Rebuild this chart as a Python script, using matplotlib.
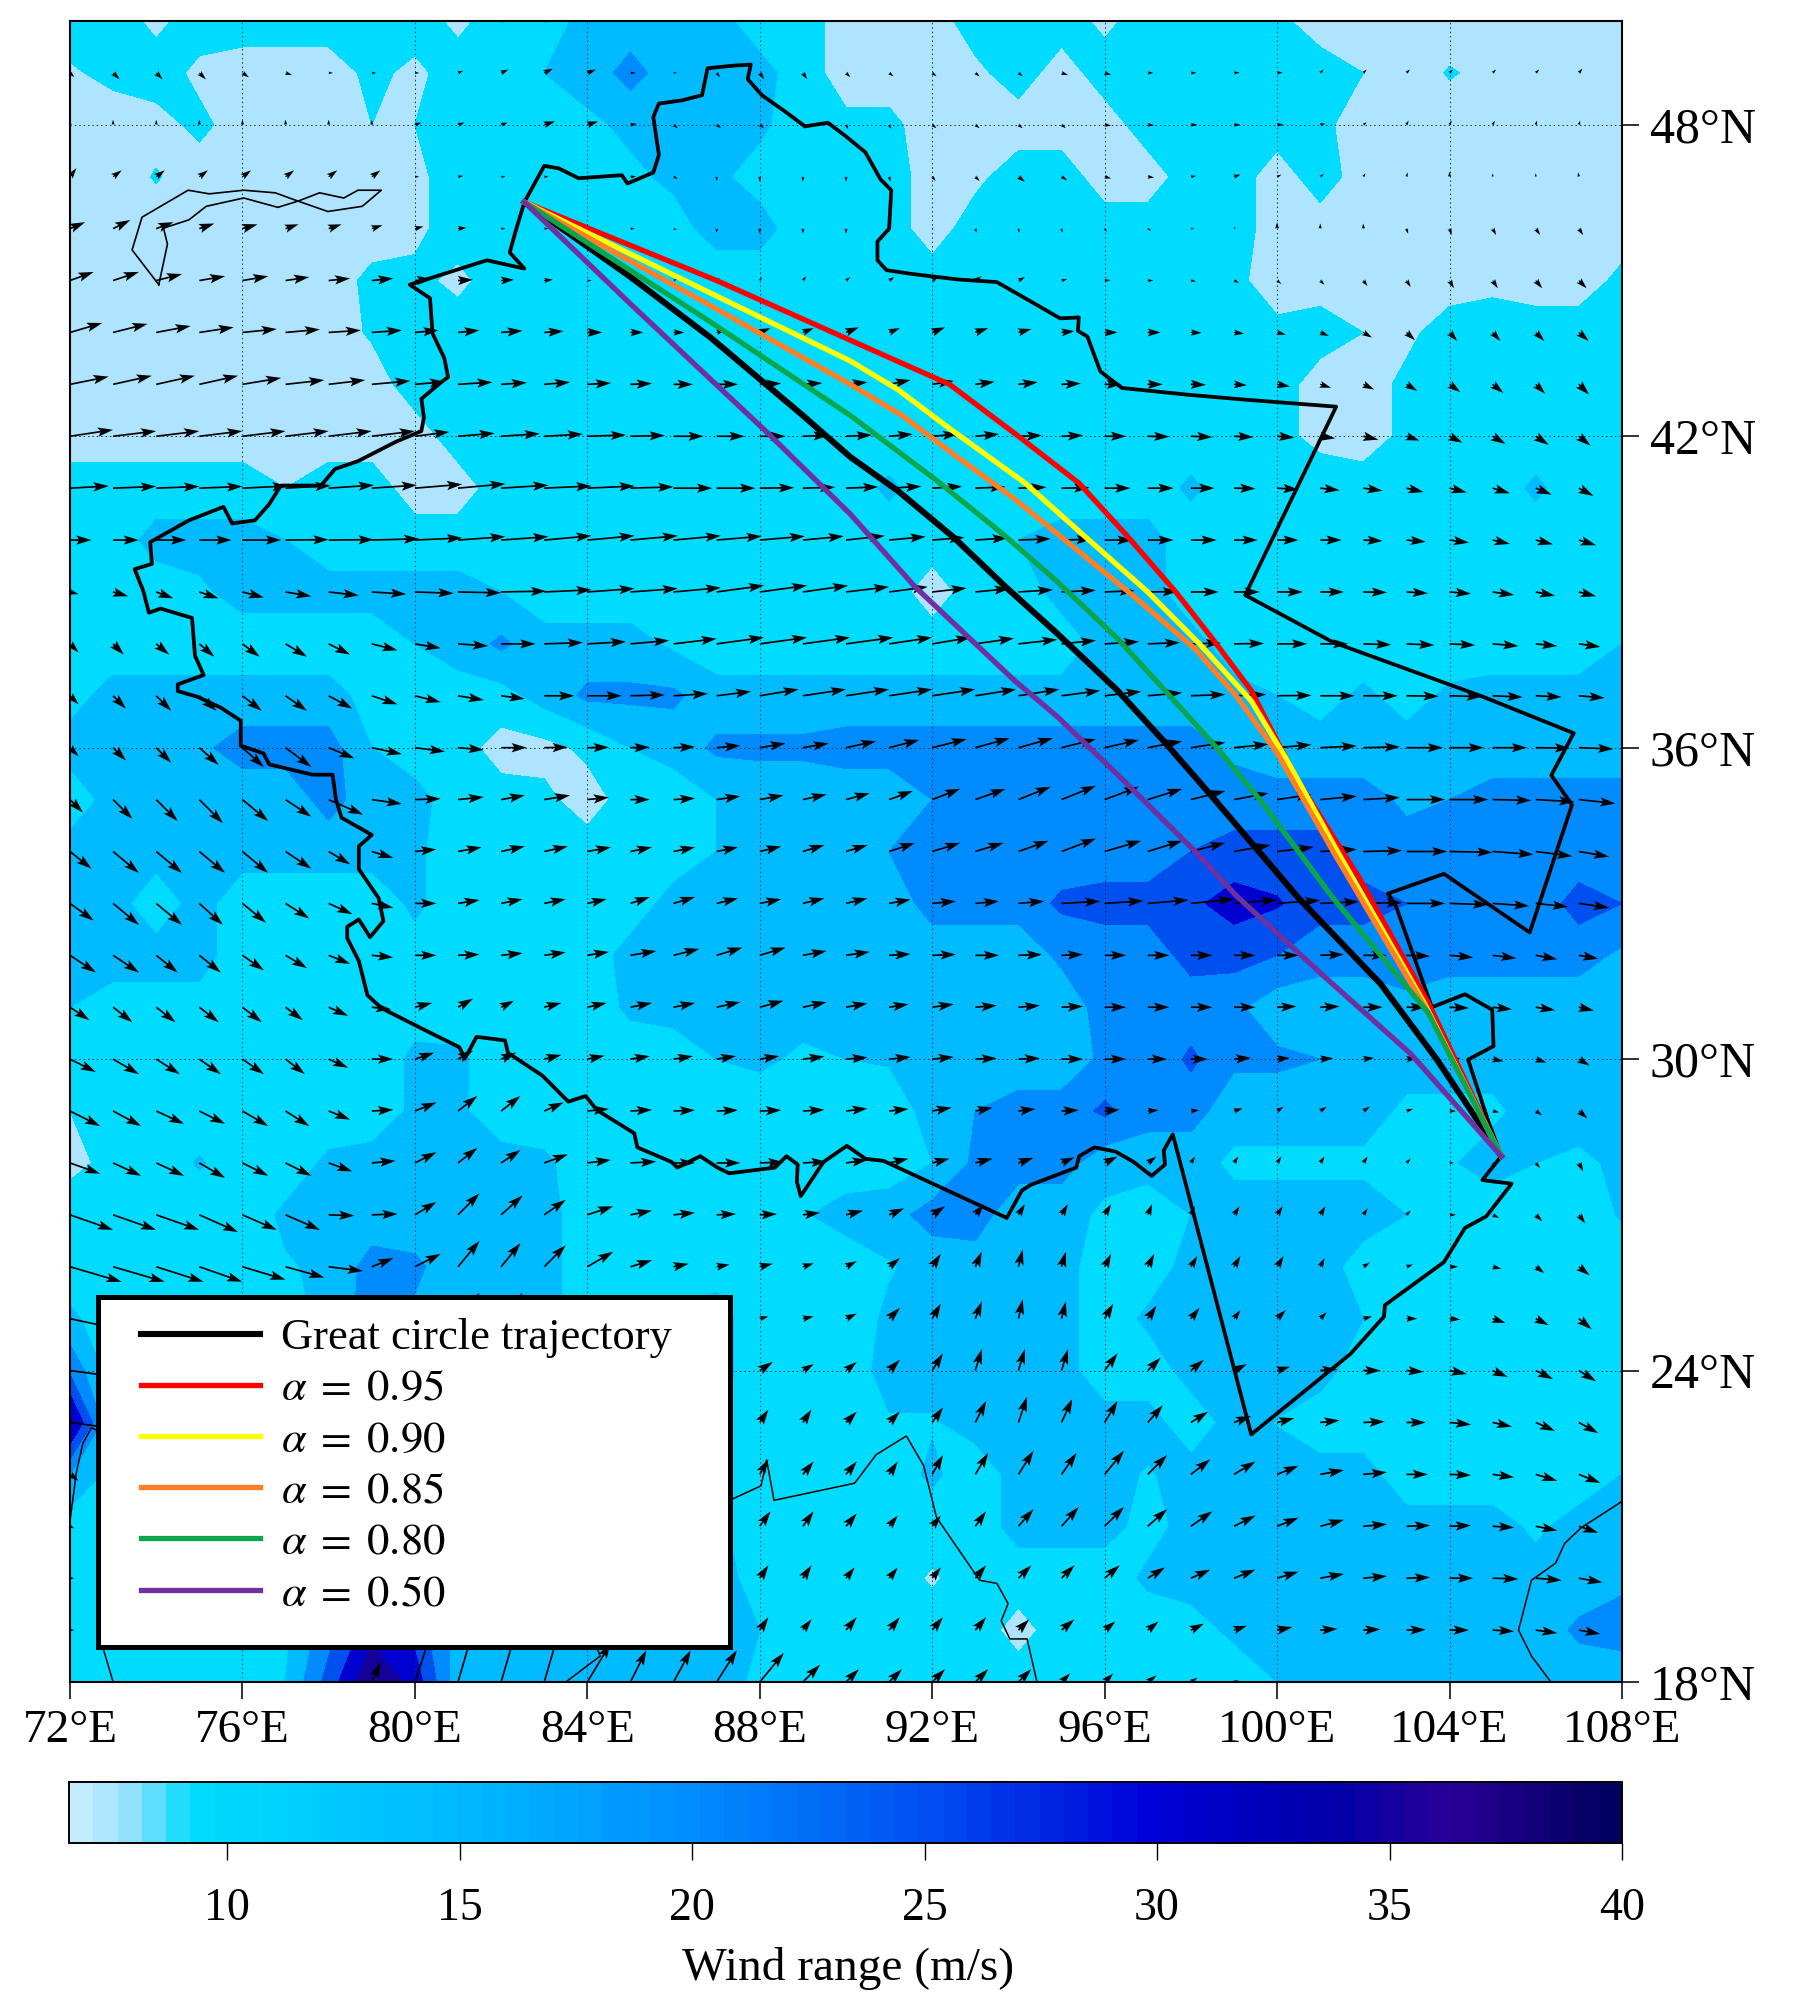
import numpy as np
import matplotlib
matplotlib.use("Agg")
import matplotlib.pyplot as plt
from matplotlib.cm import ScalarMappable
from matplotlib.colors import LinearSegmentedColormap, Normalize
from matplotlib.patches import Rectangle

plt.rcParams["font.family"] = ["Liberation Serif", "DejaVu Serif"]
plt.rcParams["mathtext.fontset"] = "stix"

# =========================
# data
# =========================
grid_lon = list(range(72, 109))
grid_lat = list(range(50, 17, -1))

# wind range (m/s), one row per latitude 50N..18N, lon 72E..108E
wind_range = [
    [12,12,9,12,12,12,12,12, 12,9,12,12,17,17,17,17,12,12, 8,9,8,12,12,12,9,12,12,12, 11,8,8,8,8,8,8,8,8],
    [9.5,11,12,9,8,8,8,11, 9,12,12,15,17,22,17,17,17,12, 8,8,8,9,12,8,12,12,12,12, 12,12,10,8,10.3,9,8,8,8],
    [8,8,8.5,11,8,8,8,10, 10,12,12,12,14,16,17,17,16,12, 11,11,8,8,8,8,8,12,12,12, 12,11,8,8,8,8,8,8,8],
    [8,8,10.3,8,8,8,8,8, 9,12,12,12,12,14,16,16,13,12, 14,12,8,9,12,12,8,8,12,12, 8,12,8,8,8,8,8,8,8],
    [8,8,8,8,8,8,8,8, 9,12,12,12,12,12,13,17,17,12, 12,12,8,12,12,12,12,12,12,12, 8,8,8,8,8,8,8,8,8],
    [8,8,8,8,8,8,8,11, 11,9,12,12,12,12,12,12,12,12, 12,12,12,12,12,12,12,12,12,11, 8,8,8,8,8,9,8,8,11],
    [8,8,8,8,8,8,8,10.5, 12,12,12,12,12,12,12,12,12,12, 12,12,12,12,12,12,12,12,12,12, 11,12,10,9,12,12,12,12,12],
    [8,8,8,8,8,8,8,8, 12,12,12,12,12,12,12,12,12,12, 12,12,12,12,12,12,12,12,12,12, 12,8,8,11,12,12,12,12,12],
    [8,8,8,8,8,8,8,8, 8,12,12,12,10,12,12,12,12,12, 12,12,12,12,12,12,12,12,12,12, 11,9,8,11,12,12,12,12,12],
    [12,12,12,12,12,10,12,12, 8,8,12,12,12,12,12,12,12,12, 12,16,12,12,12,12,12,12,16,12, 12,12,12,12,12,12,16,12,12],
    [12,12,17,17,17,15,12,12, 12,12,12,12,12,12,12,12,12,12, 12,12,12,12,15,17,17,17,12,12, 12,12,12,12,12,12,12,12,12],
    [12,12,12,14,17,17,17,17, 17,17,15,12,12,12,12,12,12,12, 12,12,8,12,12,17,17,17,12,12, 12,12,12,12,12,12,12,12,12],
    [12,12,12,12,12,12,12,12, 15,17,21,17,17,17,14,12,12,12, 12,12,12,12,12,12,17,17,17,12, 12,12,12,12,12,12,12,12,15],
    [13,17,17,17,17,17,17,13, 13,13,13,17,21,21,21,17,17,17, 17,17,17,17,17,17,17,17,17,17, 15,13,16,13,16,17,17,17,17],
    [17,17,17,19,22,22,22,15, 12,12,8,8.5,11,15,17,21,21,21, 22,22,22,22,22,22,22,22,22,19, 17,17,17,17,17,17,17,17,17],
    [12,17,17,17,17,17,22,17, 17,12,12,11,8,12,12,15,17,17, 17,17,20,22,22,22,22,22,22,22, 22,22,22,19,20,22,22,22,22],
    [17,17,17,17,17,17,17,17, 16,12,12,12,12,12,12,15,17,17, 17,20,22,22,22,22,22,22,25,27, 27,27,22,22,22,22,22,22,22],
    [17,17,12,17,12,12,12,12, 16,12,12,12,12,12,17,17,17,17, 17,17,22,22,22,26,27,27,29,32, 30.5,27,27,25,22,22,22,27,25],
    [17,17,17,17,12,12,12,12, 13,12,12,12,12,17,17,17,17,17, 17,17,17,17,17,21,22,22,27,27, 25,22,22,22,22,22,22,22,19],
    [15,13,13,13,12,12,12,14, 13,12,12,12,12,16,17,17,17,17, 17,17,17,17,17,17,22,22,22,21, 17,17,17,19,17,17,17,17,17],
    [12,12,12,12,12,12,12,12, 16,16,12,12,12,12,12,15,16,14, 15,15.5,17,17,17,17,21,21,26,21, 21,20,17,17,17,17,17,17,17],
    [10,12,12,12,12,12,12,12, 16,16,12,12,12,12,12,12,12,12, 12,12,17,20,22,22,26,22,22,17, 17,17,17,14,14,14,17,17,17],
    [9,11,12,15.5,12,12,16,17, 17,17,17,16,12,12,12,12,12,12, 12,12,15,21,22,22,17,17,17,14, 14,14,14,14,14.5,17,15,14,16],
    [12,12,12,12,12,16,17,17, 17,17,17,17,12,12,12,12,12,14.5, 17,18,22,22,17,17,14,12,15,17, 17,17,17,15,12,12,12,12,15.5],
    [12,12,12,12,12,14.5,16,22, 21,17,17,17,12,14.5,12,13,12,12, 12,14.5,17,18,17,17,12,12,17,17, 17,17,13,12,15,12,12,12,12],
    [16,12,12,12,12,12,17,22, 19,17,17,17,12,15,16,17,12,12, 12,16,17,17,17,17,12,16,17,17, 17,17,15,12,12,12,12,12,12],
    [24,12,12,12,13,14,16,18, 17,17,17,16,16,16,16,17,12,12, 12,17,17,17,17,17,12,12,17,17, 17,17,12,12,12,12,12,12,12],
    [37,14,12,12,13,14,15,16, 16,16,16,16,16,16,16,16,12,12, 12,14.5,14.5,17,17,17,17,17,12,17, 14.8,12,12,12,12,12,12,12,12],
    [20,13,12,12,12,13,14,15, 15,15,15,15,15,15,15,16,12,12, 12,12,16,12,17,17,17,14.5,17,17, 17,17,17,12,12,12,12,12,15],
    [12,12,12,12,12,12,13,14, 15,15,15,15,15,15,15,16,12,12, 12,12,12,12,17,17,17,13,17,17, 17,17,17,17,17,17,14,17,17],
    [12,12,12,12,12,12,13,14, 15,15,15,15,15,15,15,16,14,12, 12,12,9.5,12,12,12,12,16,17,17, 17,17,17,17,17,17,17,17,19],
    [12,12,12,12,12,14,23,33, 28,18,17,17,17,17,17,17,15,12, 12,12,12,12,8.5,12,12,12,13,16, 17,17,17,17,17,17,17,21,22],
    [12,12,12,12,12,15,27,40, 33,17,17,17,17,17,17,17,14,12, 12,12,12,12,12,12,12,12,12,12, 15,17,17,17,17,17,17,17,17],
]

# wind vectors, one row per latitude 50N..18N, lon 72E..107E
arrow_lon = list(range(72, 108))
wind_u = [
    [0,0,0,0,0,0,0,0, 1,1,1.5,1.5,0,0,0,0,0,0, 0,0,0,0,0,0,0,0,0,0, 0,0,.8,.8,.8,.8,.8,.8],
    [1,1.5,1.5,1.5,1.5,1.5,1,1, 1,1.2,1.7,2,2,1.2,.8,.8,1,1, 1,1,1,1,1,1.5,1.5,1.3,1.3,1.3, 1.3,.8,.8,.8,.8,.8,.8,.8],
    [0,0,0,0,0,0,0,0, 1.5,1.5,1.5,2.5,2.5,1.5,1,1,1,.5, .5,.5,1,1,1,1,1.5,1.5,1.5,1.5, 1.5,1.2,.8,.5,.5,.5,.3,.3],
    [1.5,2,2,2,2,2,2,2, 1,1.2,1,1,1,1.3,1,0,0,0, 0,.3,.8,1,1.5,1.3,1.5,1.5,1.2,1.5, 1,.8,.5,.3,0,0,0,-.2],
    [3.5,4,4,3.5,3.5,3,3,2.5, 2,2,1,1,1,1,.8,0,0,0, 0,0,.3,.3,.2,.2,.5,.8,.8,.5, 0,0,0,.4,.5,.8,1,1],
    [5.5,6,6,6,6,5.5,5,5, 4,3.5,3,2,1,1,.8,.8,.5,.8, 1,1.2,1.5,1.5,1.5,1.3,1.3,1.3,1.2,1.2, 1,1,1,1,1,1.2,1.5,1.8],
    [7.5,8,8,8,8,8,7.5,7, 5.5,5,5,4.5,3.5,3,2.5,2,2.5,2.5, 3,2.5,3,3,3,3,3,3,2.5,2.3, 2,2,2,2,1.8,1.8,2,2.3],
    [9,9,9,9,9,9,8.5,9, 7,8,6,6,5.5,5,4.5,5,5,4.5, 5,5,5,4.5,4.5,4.5,4,3.5,3.5,3, 3,2.5,2.5,2.5,2.5,2.5,2.2,2.4],
    [10,10,10,10,10,10,10,10, 8,8.5,9,9,9,8,7,6.5,6,6, 6,5.5,6,5.5,5.5,5,5,5,5,4.5, 4,3.5,3.5,3,3,3,3,2.7],
    [9,10,10,10,10.5,10.5,10.5,10.5, 11,11,11,11,11,10,9,9,8,7.5, 7.5,7.5,7,7,6.5,6.5,6,6,5.5,5, 5,4.5,4.5,4,4,4,3.7,3.4],
    [5,6,7,7.5,9,10,10.5,11, 11,11,11,11,11,11,11,10.5,10.5,9.5, 9,8.5,7.5,7.5,7.5,7,6.5,6,6,5.5, 5,5,4.5,4.5,4.5,4,4,4],
    [2,3.5,4,4.5,5,6,7,8, 9,10,10.5,11,11,11,11,11,11,10.5, 10,9,8,8,8,8,7,7,6.5,6, 6,5.5,5.5,5,5,5,4.5,4],
    [2,2.5,3,3.5,4,5,5,6, 6,7,8,9,9,9,10,11,11,11, 11,10,9,9,9,8,8,7.5,7,7, 7,6.5,6.5,6.5,6,6,5,5],
    [2,3,3.5,4,4.5,5,5.5,6, 6,6,5.5,7,8,8,8,8,9,10, 10,10,10,9.5,9.5,9,8.5,8,8,7.5, 8,8,8,7.5,7.5,7,6,6],
    [2,3,3.5,4.5,5,6,6,7, 7,6,6,5.5,5,4.5,5,5.5,6,6, 7,7,8,8,8,8,8,8,8,8, 8,8.5,8.5,8.5,8,8,8,8],
    [3,4.5,5,5.5,6,6,8,7, 6,6,5.5,6,5,4.5,5,5.5,5.5,5.5, 5.5,5.5,6.5,7,7.5,8,8,8,8,8, 8,8.5,8.5,9,9,9,9,8.5],
    [5,6,6,6,6,6,5,5, 5,5.5,5.5,5.5,5.5,5,5,5,5,5, 5,6,6.5,6.5,7,8,8.5,8,8,8.5, 8.5,8.5,9,9.5,10,9.5,8.5,7],
    [5.5,6,6,5.5,5.5,5.5,5.5,5, 5,5,5,5,4.5,4.5,5,5,5,5, 5,5,5.5,5.5,6,9,9,9.5,10,10, 10,9,9,9,9,8.5,7.5,7],
    [6,6,5,5,5,5,5,5, 5,5,5,5,5,6,6,6,6,5.5, 5.5,5,5.5,5.5,5.5,5,5,5,5,5, 5,5.5,5.5,5.5,5.5,5.5,5,4.5],
    [4.5,4.5,4.5,4.5,4.5,4,4.5,4.5, 4,3.5,3,4,4.5,5,5,5.5,5.5,5.5, 5,4.5,5,5,5,5,5,5,5,5, 4.5,4.5,4.5,4.5,4.5,4.5,4.5,3.5],
    [6,6,5.5,5,5,4.5,4.5,5, 4.5,3.5,3.5,4,4,4.5,4.5,4.5,4.5,5, 5,5,5,5,5,5,5,4.5,4,4, 3,3,2.5,2.5,2.5,2.5,2.5,2.5],
    [7,6.5,6.5,6,6,5.5,5,5, 5,4.5,4.5,4.5,5,5,5,5,5,5, 5,4.5,4.5,4,4,4,3.5,2.5,2,2, 1.5,1.5,1.5,1.5,1.5,1.5,1.5,2],
    [7,6.5,6.5,6,6,6,5.5,5.5, 5,4.5,4.5,5.5,5.5,6,5,5.5,5.5,5.5, 5,4.5,4,4,3.5,3,3,2,1,1, 1,1,1,1,1,.8,1,1],
    [10,10,10,9,8,8,6,6, 5,5,5,5,6,5,5,4.5,4,4, 4,3.5,3,2,1.5,1.5,1.5,1,1,1.3, 1.3,1.2,1,1,1.5,1.5,1.5,1.5],
    [12,12,11,10,10,9,8,5, 6,5,4.5,5,6,5,3.5,3,3,2.5, 2.5,2.5,2,1.5,1,1,1.5,1.5,1.5,1.5, 1.5,1,1.5,1.5,2,2,2,2.5],
    [14,13,12,11,10,8,6,5, 5,5,5,5,5,4,3,2.5,2,2.5, 2.5,2.5,2,1.5,1,1,2,2,2,1.5, 2,1.5,2,2.5,2.5,3,3,3],
    [15,12,10,8,6,5,5,4, 4,4,4,4,3,3,3,3,3,2.5, 2.5,2.5,2.5,1.5,1.5,1.5,3,3,3,3, 3,4,4,4,4,3.5,4,4],
    [15,10,8,6,5,4,4,4, 4,4,4,3,3,3,3,2,2,2, 2.5,2.5,2.5,2.5,2,2.5,3,3.5,4,4, 4,4.5,5,4.5,5,4.5,4.5,4.5],
    [2,3,3,3,3,3,3,3, 3,3,3,3,3,3,3,2,2,2.5, 2.5,2,2.5,3,3.5,3.5,4.5,4.5,4.5,5, 5,5.5,5.5,5,5,5,5,5],
    [1,1,1,1,1,1,2,2, 3,3,3,3,3,3,3,3,2.5,2.5, 2.5,2,2,2.5,3.5,4,4.5,4.5,5,5, 5,5.5,5.5,5.5,5,5,5,4.5],
    [1,1,1,1,1,1,2,2, 3,3,3,3,3,3,3,3,2,2, 2,2,2,2.5,3,3,3.5,4,4.5,5, 5,5.5,5.5,5.5,5.5,6,6,5.5],
    [1,1,1,1,1,2,2,2, 3,3,3,3,3,3,3,3,2,2, 2.5,2.5,2.5,2.5,2.5,3,2.5,2.5,3,3, 3.5,4,4,4.5,4.5,5,5,5],
    [1,1,1,1,1,1,1,2, 4,3.5,3.5,3.5,5.4,3.7,4,4.7,5.6,4, 3,3,3,3,3,2,2,2,1.5,1, 1,.5,.5,.5,.5,.5,.5,.5],
]
wind_v = [
    [0,0,0,0,0,0,0,0, 1,1,1,1,0,0,0,0,0,0, 0,0,0,0,0,0,0,0,0,0, 0,0,1,1,1,1,1,1],
    [-1,-1.5,-1.5,-1.5,-1,-.5,0,0, 0,.5,.8,1,.8,0,0,-1,-1.5,-1.5, -1,-.8,-.8,-.8,-.8,-.5,-.5,0,0,.1, .1,.8,.8,.8,.8,.8,.8,1],
    [1.2,1.2,1.2,1.2,1.2,1.2,1.2,1.2, .5,.5,.5,.8,.8,.2,-.8,-.8,-.8,-1, -1,-1,-.8,-.8,-.8,-.8,-.2,-.1,0,0, 0,.3,.6,1,1,1,1,1],
    [2,1.5,1.5,1.5,1.5,1.5,1.5,1.5, 0,.2,0,0,0,0,-.5,-1,-1.2,-1.2, -1.2,-1.2,-1,-1,-1.2,-.8,-.4,-.2,.2,.5, .5,.6,.8,1,1.2,.8,.8,1],
    [1.5,2,1.5,1.2,1,1,1,.8, .5,.2,0,0,0,0,-.3,-1,-1.2,-1.2, -1.2,-.8,.3,-1,-1,-1,-.8,-.5,0,.4, 1.5,1.2,1.2,-1.2,-1.5,-1.5,-1.5,-1.5],
    [2,2,1.5,1,1,.8,.5,.5, .3,.2,.2,.2,0,0,.3,.5,.8,1, .8,.8,1,1,.8,.3,.1,0,-.2,-.5, -.8,-1,-1.3,-1.5,-1.8,-1.8,-1.8,-1.8],
    [2.2,2,1.5,1.2,.8,.7,.5,.5, .5,.5,.4,.3,0,0,0,.5,1,1, 1.2,1,1.2,1,.8,.3,0,0,-.1,-.3, -.5,-.8,-1.2,-1.8,-2,-2,-2,-2],
    [1.8,2,2,2,1.5,1,1,.8, .6,.5,.4,.5,.3,.2,0,0,.2,.3, .5,1,.8,.6,.5,.2,0,0,-.1,-.2, -.5,-.8,-1.2,-1.5,-1.8,-2,-2.2,-2.4],
    [1.5,1.2,1.2,1.2,1.2,1.2,1.2,1.2, 1,.7,.6,.5,.3,.2,0,0,0,.2, .3,.5,.5,.5,.2,.2,0,-.1,-.2,-.2, -.3,-.5,-.8,-1,-1.5,-1.8,-2,-2.2],
    [.5,.4,.4,.4,.5,.6,.7,.7, .9,1,.7,.5,.5,.3,0,0,.1,.2, .3,.4,.4,.3,.2,.1,0,0,0,-.1, -.3,-.5,-.6,-.9,-1,-1.2,-1.5,-1.8],
    [0,0,0,0,0,.1,.1,.3, .5,.8,.8,1,1,1,1,.9,.9,.9, 1,.8,.6,.5,.3,.2,0,0,0,0, 0,0,-.2,-.4,-.6,-.9,-1,-1.2],
    [-.5,-1,-1.5,-1.5,-1.3,-1,-.8,-.5, -.3,-.2,.2,.5,.8,.8,1,1.5,1.5,1.5, 1.2,1.2,.9,.8,.5,.4,.3,.1,0,0, 0,0,-.1,-.3,-.4,-.7,-.9,-1],
    [-2,-2.5,-2.5,-3,-3,-3,-2.5,-1.5, -1,-.5,0,.3,.5,.8,1.2,1.5,1.5,1.5, 1.5,1.5,1.5,1.3,1,.8,.5,.3,.2,.1, 0,0,-.2,-.3,-.3,-.5,-.5,-.7],
    [-2,-3,-3.5,-3.5,-3.5,-3.5,-3,-2, -1.5,-1,-.7,0,0,.2,.5,1,1.5,1.5, 1.5,1.5,1.5,1.5,1.5,1.2,1,.7,.3,.3, .1,0,0,-.1,-.2,-.3,-.3,-.5],
    [-2,-3,-3.5,-4,-4.5,-4.5,-2.5,-1.5, -.9,-.5,0,.1,.1,.1,.2,.5,1,1, 1.5,1.8,2,2.2,2.2,2,1.8,1.5,1.2,.8, .7,.4,.2,0,0,0,-.1,-.3],
    [-3,-4.5,-5,-5.5,-5,-4,-3.5,-1, .2,.6,1,1,.5,0,.3,.8,1,1.2, 1.5,2,2.5,2.5,3,3.2,3,2.5,2,1.5, 1.2,.8,.5,0,0,-.2,-.5,-.9],
    [-4,-5,-5,-5,-5,-4,-3,-1.5, .5,1,1.2,1.2,1,1,1,1,1.2,1.5, 1.5,2,2,2,2.5,3,2.5,2.5,2,1.5, 1,.5,.2,0,-.2,-.7,-1.1,-1.2],
    [-4,-5,-5,-5,-4.5,-3.5,-2.5,-1, 0,.8,1,1,1,1.5,1.5,1.2,1,1.2, 1.2,.9,.5,.5,.5,.5,.6,.8,1,.8, .7,.4,.2,0,-.3,-.6,-.8,-1],
    [-4,-4,-4,-4,-3.5,-3,-2,-.5, 0,.2,.5,.7,.8,1,1.5,1.8,1.8,1, .8,.3,.2,0,.2,.2,0,0,0,0, 0,.2,0,-.2,-.5,-.7,-.9,-.8],
    [-3,-3.5,-3.5,-3.5,-3.5,-3,-2,-.5, 1,2,1.5,1,1,1,1,1.2,1.5,1.2, .9,.7,.7,.4,.4,.2,0,0,0,0, .2,.2,0,0,-.2,-.5,-.7,-.8],
    [-3,-3.5,-3.5,-3.5,-3.5,-3.5,-2,0, 1.5,2,1.5,1,.8,.7,.7,.7,.7,.6, .4,.5,.5,.2,.2,0,0,0,0,.3, .3,.2,.3,.2,.2,-.5,-.8,-1.5],
    [-3.5,-3.5,-3,-3,-3.5,-3.5,-2,.3, 2,3.5,3.5,2,.5,.3,.2,.2,.2,.3, .6,.5,.8,.8,.5,.2,.3,.2,.2,.6, 1,1,1,.5,0,-.3,-1,-1.7],
    [-2.5,-3,-3,-3.5,-3,-3,-2,.5, 2.5,3.5,3,2,.7,.3,0,0,.2,.3, .7,1,1,1,1.2,1.3,1.5,1.5,1.5,1.5, 1.5,1.5,1.5,1,0,-.8,-1.2,-2],
    [-3.5,-3.5,-3.5,-4,-3.5,-3.5,-.2,.2, 3,5,4.5,3.5,2,1,.5,.2,.2,.5, 1,1.5,2,2.5,2.5,2.5,2.5,2.5,2,2, 2,2,1.5,1,0,-.7,-1.5,-2],
    [-3.5,-3.5,-3.5,-3.5,-3,-2.5,-1,2, 3,6,5.5,5,3.5,1.5,.7,.5,.7,.8, 1.3,2,3,3.5,4,3.5,3,3,2.5,2.5, 2.5,2,1,.5,0,-.5,-1.5,-2],
    [-3,-3,-3,-3,-3,-2,0,3, 4,6,6,5.5,4,2,1,.5,.5,.5, 1.2,2.5,3.5,4,4.5,4,3.5,3,2.5,2, 2,1.5,.5,0,-.2,-1,-1.5,-2.5],
    [-2,-2,-2,-2,-1,0,2,3, 4,5,5,4,3,3,3,3,2,1.5, 2,2.5,4,5,5,5,4,3,2.5,1.5, .9,.3,0,-.3,-.8,-1.5,-2,-2.5],
    [-2,-2,-1,0,1,2,3,3, 4,4,4,3,3,3,3,3,3,3, 2.5,2.5,3.5,5,6,5.5,5,4,2.5,1.5, 1,.5,.2,0,-.5,-1,-2,-2.5],
    [-1.5,0,1,2,3,3,3,3, 3,3,3,3,3,3,3,3.5,3.5,3, 3,3,4.5,5,5.5,5,5.5,4.5,3.5,3, 2,1,.5,0,-.2,-.7,-1.5,-2],
    [-.5,0,0,1,1,1,2,2, 3,3,3,3,3,3,3,3,3.5,3.5, 3,2.5,2.5,3.5,4,4.5,4.5,4,3.5,2.5, 2,1.5,.5,.2,.2,-.3,-1,-1.5],
    [0,0,0,0,1,1,2,3, 3,3,3,3,3,3,3,3,3,3, 2.5,2.5,2.5,3,3,3,3,2.5,2,2, 1.5,1,.5,.2,0,-.2,-.5,-1],
    [0,0,0,0,0,1,2,4, 6,6,6,6,6,6,6,6,3,2.5, 3,3,3,3,2.5,2.5,2,2,1.5,1, .7,.3,.2,.1,0,-.3,-.7,-.9],
    [0,0,0,0,0,0,0,4.5, 12,12,12,12,9,7.4,7.4,7.4,6.8,4, 3,3,3,3,3,2,2,1.5,1,.5, .2,0,0,0,0,0,0,0],
]

# contour bands
band_levels = [0, 10, 15, 20, 25, 30, 35, 40, 60]
band_colors = ["#aee4ff", "#00dcff", "#00bbff", "#008cff", "#0050f0", "#0000d0", "#14009a", "#000060"]

# colourbar ramp
ramp_values = [6.6, 7.5, 8.5, 9, 15, 20, 25, 30, 34, 36.5, 40]
ramp_colors = ["#c4ecff", "#9fe3ff", "#40dcff", "#00dcff", "#00b8ff", "#008cff", "#0050f0",
               "#0000d8", "#0000a8", "#2a0098", "#000060"]

# main boundary
border_lon = [82.54,83.0,83.34,83.8,84.8,84.93,85.53,85.66,85.53,85.66,86.19,86.66,86.79,87.39,87.79,87.72,88.05,88.58,89.05,89.58,
              89.98,90.45,90.8,91.05,91.0,90.73,90.73,90.94,91.5,92.6,93.5,94.28,94.97,95.4,95.38,95.6,95.9,96.4,97.93,99.33,
              101.37,99.26,101.3,104.78,106.88,106.36,106.84,105.86,103.87,102.57,102.76,103.59,104.36,104.99,105.02,104.43,104.9,105.2,104.76,105.44,
              104.85,104.36,103.87,102.5,102.48,101.7,99.4,97.58,97.37,97.4,97.09,96.67,96.25,95.76,95.41,95.34,94.29,94.08,93.73,90.87,
              90.45,90.02,89.48,88.95,88.86,88.88,88.62,88.35,87.29,87.02,86.62,86.09,85.95,85.16,85.09,84.22,83.96,83.56,82.96,82.16,
              82.09,81.43,81.16,81.03,80.23,79.23,78.9,78.7,78.43,78.43,78.7,78.96,79.27,79.16,78.7,78.7,79.0,78.3,78.17,78.09,
              77.62,76.62,76.49,75.96,75.96,75.5,74.96,74.5,74.5,75.1,74.9,74.83,74.1,73.83,73.7,73.5,73.9,73.86,74.76,75.56,
              75.76,76.29,76.62,76.89,77.82,78.15,78.68,79.55,80.15,80.21,80.15,80.61,80.77,80.68,80.41,80.35,79.88,81.67,82.54,82.2,82.34,82.54]
border_lat = [46.51,47.21,47.16,46.97,47.03,46.87,47.08,47.42,48.15,48.41,48.47,48.57,49.09,49.14,49.16,48.88,48.57,48.26,47.97,48.04,
              47.79,47.47,46.95,46.74,46.0,45.75,45.39,45.2,45.13,45.02,44.97,44.6,44.27,44.29,44.03,43.92,43.25,42.93,42.8,42.7,
              42.57,38.94,38.03,36.98,36.28,35.47,34.9,32.44,33.57,33.19,32.94,31.0,31.25,30.95,30.25,29.99,28.8,28.13,27.67,27.6,
              26.97,26.75,26.09,25.26,25.04,24.32,22.77,28.55,28.24,27.97,27.75,28.02,28.22,28.3,28.13,27.91,27.58,27.47,26.94,28.04,
              28.08,28.33,28.02,27.36,27.64,27.97,28.13,27.91,27.8,27.91,28.13,27.91,28.02,28.3,28.57,29.02,29.29,29.18,29.68,30.12,
              30.36,30.43,30.01,30.23,30.56,30.98,31.23,31.89,32.33,32.55,32.69,32.35,32.66,33.1,33.66,34.1,34.32,34.65,35.0,35.48,
              35.48,35.68,35.89,36.04,36.52,36.77,36.98,37.09,37.22,37.4,37.77,38.5,38.68,38.6,39.02,39.44,39.54,39.96,40.38,40.64,
              40.32,40.38,40.69,41.05,41.05,41.37,41.52,41.89,42.1,42.36,42.72,43.04,43.14,43.51,43.98,44.66,44.92,45.39,45.23,45.54,45.96,46.51]

# thin outlines
lake_lon = [74.06,73.44,73.67,74.74,75.23,76.03,76.76,77.29,77.79,78.35,78.68,79.22,78.78,77.98,77.29,76.82,76.03,75.16,74.76,74.17,74.26,74.06]
lake_lat = [44.92,45.59,46.22,46.74,46.67,46.74,46.69,46.53,46.69,46.59,46.74,46.74,46.43,46.33,46.53,46.41,46.59,46.43,46.17,46.01,45.7,44.92]
south_lon = [87.3,88.03,88.16,88.33,90.2,90.7,91.4,91.8,92.1,93.1,93.5,93.76,93.6,93.8,94.2,94.43]
south_lat = [21.5,21.78,22.28,21.5,21.83,22.38,22.74,22.17,21.17,19.96,19.9,19.51,19.18,18.83,18.83,18.0]
east_lon = [108,107.05,106.67,106.46,105.9,105.6,105.9,106.35]
east_lat = [21.48,20.97,20.67,20.29,19.96,19.0,18.5,18.0]
west_lon = [72.0,72.15,72.3,72.5,72.62,72.7]
west_lat = [21.1,22.05,22.6,22.9,22.85,21.1]
corner_lon = [72.75,73.0]
corner_lat = [18.7,18.0]
gap_lon = [83.5,84.3,84.2]
gap_lat = [18.0,18.5,18.7]

# trajectories
black_lon = [82.54,85.0,86.86,89.0,90.1,91.2,92.5,93.7,94.9,96.3,97.4,98.5,100.5,102.4,103.7,105.2]
black_lat = [46.51,45.07,43.9,42.4,41.6,40.95,40.05,39.1,38.2,37.1,36.1,35.05,33.1,31.45,30.0,28.13]
red_lon = [82.54,87.0,90.1,92.4,94.0,95.4,96.5,97.65,98.5,99.4,100.45,101.9,103.5,105.2]
red_lat = [46.51,45.0,43.85,43.0,42.0,41.1,40.1,39.0,38.1,37.1,35.4,33.5,31.1,28.13]
yellow_lon = [82.54,87.0,90.1,91.2,92.4,94.15,95.5,97.0,98.2,99.4,100.2,101.4,103.4,105.2]
yellow_lat = [46.51,44.7,43.45,42.9,42.15,41.1,40.1,39.0,38.0,36.9,35.8,34.0,31.1,28.13]
orange_lon = [82.54,87.0,90.1,91.3,92.5,93.9,95.3,96.7,98.1,99.05,100.0,101.3,103.5,105.2]
orange_lat = [46.51,44.45,43.0,42.4,41.65,40.8,39.85,38.9,37.9,37.0,35.9,34.0,30.9,28.13]
green_lon = [82.54,86.86,90.1,92.1,93.66,94.9,96.3,97.4,98.6,99.6,101.3,103.5,105.2]
green_lat = [46.51,44.2,42.4,41.15,40.1,39.2,38.1,37.1,36.0,35.0,33.1,30.9,28.13]
purple_lon = [82.54,85.0,88.2,90.1,91.6,92.75,93.9,94.9,96.4,98.1,99.05,101.15,103.1,105.2]
purple_lat = [46.51,44.55,42.05,40.5,39.1,38.2,37.3,36.6,35.4,34.0,33.15,31.55,30.1,28.13]

lon_ticks = [72, 76, 80, 84, 88, 92, 96, 100, 104, 108]
lat_ticks = [18, 24, 30, 36, 42, 48]
bar_ticks = [10, 15, 20, 25, 30, 35, 40]

# =========================
# figure
# =========================
W, H = 1795, 2016
fig = plt.figure(figsize=(W / 100, H / 100), dpi=100)
ax = fig.add_axes([70 / W, 1 - 1682 / H, 1552 / W, 1661 / H])

ax.contourf(grid_lon, grid_lat, np.array(wind_range), levels=band_levels, colors=band_colors)

# map grid
for x in lon_ticks[1:-1]:
    ax.axvline(x, color="#103050", lw=0.7, ls=(0, (1.5, 3)), zorder=1.5)
for y in lat_ticks[1:]:
    ax.axhline(y, color="#103050", lw=0.7, ls=(0, (1.5, 3)), zorder=1.5)

ax.quiver(arrow_lon, grid_lat, np.array(wind_u), np.array(wind_v), angles="uv",
          scale_units="dots", scale=1 / 4.3, units="dots", width=1.7, headwidth=5.5,
          headlength=9, headaxislength=7.5, minshaft=1, minlength=0, pivot="tail",
          color="black", zorder=3)

ax.plot(lake_lon, lake_lat, color="black", lw=1.2, zorder=4)
ax.plot(south_lon, south_lat, color="black", lw=1.1, zorder=4)
ax.plot(east_lon, east_lat, color="black", lw=1.1, zorder=4)
ax.plot(west_lon, west_lat, color="black", lw=1.1, zorder=4)
ax.plot(corner_lon, corner_lat, color="black", lw=1.1, zorder=4)
ax.plot(gap_lon, gap_lat, color="black", lw=1.1, zorder=4)
ax.plot(border_lon, border_lat, color="black", lw=2.7, zorder=4, solid_joinstyle="round")

ax.plot(black_lon, black_lat, color="black", lw=4.4, zorder=5, label="Great circle trajectory")
ax.plot(red_lon, red_lat, color="#ff0000", lw=3.8, zorder=5, label=r"$\alpha\;=\;0.95$")
ax.plot(yellow_lon, yellow_lat, color="#ffff00", lw=3.8, zorder=5, label=r"$\alpha\;=\;0.90$")
ax.plot(orange_lon, orange_lat, color="#ff7f27", lw=3.8, zorder=5, label=r"$\alpha\;=\;0.85$")
ax.plot(green_lon, green_lat, color="#0aa64b", lw=3.8, zorder=5, label=r"$\alpha\;=\;0.80$")
ax.plot(purple_lon, purple_lat, color="#7030a0", lw=3.8, zorder=5, label=r"$\alpha\;=\;0.50$")

ax.set_xlim(72, 108)
ax.set_ylim(18, 50)
ax.set_xticks(lon_ticks)
ax.set_xticklabels([f"{v}°E" for v in lon_ticks], fontsize=34)
ax.yaxis.tick_right()
ax.set_yticks(lat_ticks)
ax.set_yticklabels([f"{v}°N" for v in lat_ticks], fontsize=36)
ax.tick_params(axis="both", direction="out", length=12, width=1.3, pad=8, color="#222222")
for s in ax.spines.values():
    s.set_linewidth(1.5)

# legend box is a fixed size, so the frame is its own patch
ax.add_patch(Rectangle((28 / 1552, 35 / 1661), 632 / 1552, 350 / 1661, transform=ax.transAxes,
                       facecolor="white", edgecolor="black", lw=3.6, zorder=9))
leg = ax.legend(loc="upper left", bbox_to_anchor=(71 / 1552, 364 / 1661), borderaxespad=0,
                borderpad=0, frameon=False, fontsize=32, handlelength=2.68, handletextpad=0.47,
                labelspacing=0.25)
leg.set_zorder(10)

# colourbar
cax = fig.add_axes([69 / W, 1 - 1843 / H, 1553 / W, 61 / H])
stops = [(v - ramp_values[0]) / (ramp_values[-1] - ramp_values[0]) for v in ramp_values]
ramp = LinearSegmentedColormap.from_list("wind", list(zip(stops, ramp_colors)), N=64)
cb = fig.colorbar(ScalarMappable(Normalize(ramp_values[0], ramp_values[-1]), ramp), cax=cax,
                  orientation="horizontal", ticks=bar_ticks)
cb.ax.tick_params(length=12, width=1.0, labelsize=33, pad=20)
cb.outline.set_linewidth(1.4)
fig.text(848 / W, 1 - 1969 / H, "Wind range (m/s)", fontsize=34, ha="center", va="center")

fig.savefig("out.png", dpi=100)
print("done")
